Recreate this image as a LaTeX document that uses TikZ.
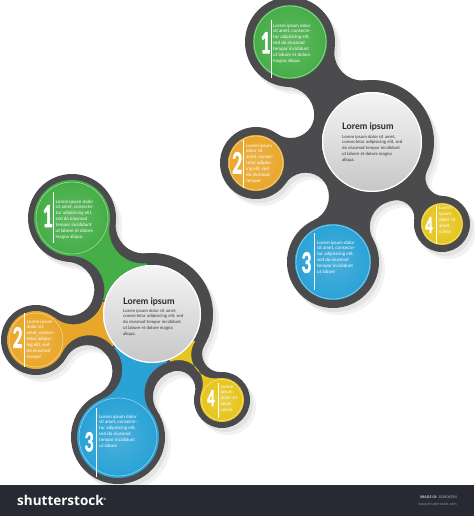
\documentclass[tikz,border=0pt]{standalone}
\usepackage{fontspec}
\usepackage{graphicx}
\setmainfont{Lato}
\newfontfamily\logofont{Open Sans}
\newfontfamily\numfont{Lato}[BoldFeatures={FakeBold=2.5}]
\usetikzlibrary{intersections}
\definecolor{blobgray}{HTML}{4B4B4E}
\definecolor{cgreen}{HTML}{45AE47}
\definecolor{corange}{HTML}{E9A72A}
\definecolor{cblue}{HTML}{2AA2D6}
\definecolor{cyellow}{HTML}{E6C51E}
\definecolor{barbg}{HTML}{272A32}
% metaball neck between two circles: #1 centre A, #2 radius A, #3 centre B, #4 radius B, #5 fillet radius, #6 colour
\newcommand\mbneck[6]{%
  \path[name path=mbA] (#1) circle[radius=#2pt+#5pt];
  \path[name path=mbB] (#3) circle[radius=#4pt+#5pt];
  \path[name intersections={of=mbA and mbB, name=mbF}];
  \begin{scope}[even odd rule]
    \clip (-50,-50) rectangle (550,600) (mbF-1) circle[radius=#5pt] (mbF-2) circle[radius=#5pt];
    \fill[#6] (#1) -- (mbF-1) -- (#3) -- (mbF-2) -- cycle;
  \end{scope}}
\newcommand\blobA[1]{%
  \fill[#1] (AC) circle[radius=62pt] (AG) circle[radius=45pt] (AO) circle[radius=36pt] (AB) circle[radius=46pt] (AY) circle[radius=28pt];
  \mbneck{AC}{62}{AG}{45}{28}{#1}%
  \mbneck{AC}{62}{AO}{36}{24}{#1}%
  \mbneck{AC}{62}{AB}{46}{26}{#1}%
  \mbneck{AC}{62}{AY}{28}{18}{#1}}
\newcommand\blobB[1]{%
  \fill[#1] (BC) circle[radius=61pt] (BG) circle[radius=44pt] (BO) circle[radius=35pt] (BB) circle[radius=47pt] (BY) circle[radius=28pt];
  \mbneck{BC}{61}{BG}{44}{28}{#1}%
  \mbneck{BC}{61}{BO}{35}{24}{#1}%
  \mbneck{BC}{61}{BB}{47}{26}{#1}%
  \mbneck{BC}{61}{BY}{28}{18}{#1}}
\begin{document}
\begin{tikzpicture}[x=1pt,y=-1pt,
  lobetxt/.style={anchor=north west, inner sep=0pt, text=white, align=left, font=\fontsize{4.6}{5.9}\selectfont},
  numtxt/.style={anchor=north west, inner sep=0pt, text=white, font=\numfont\bfseries\fontsize{#1}{#1}\selectfont},
  ctrhead/.style={anchor=north west, inner sep=0pt, text=black!85, font=\bfseries\fontsize{9}{10}\selectfont},
  ctrtxt/.style={anchor=north west, inner sep=0pt, text=black!78, align=left, font=\fontsize{4.4}{5.75}\selectfont},
  vline/.style={white, line width=0.9pt},
  lobe/.style={inner color=#1!85!white, outer color=#1},
  rim/.style={draw=#1!55!white, line width=0.7pt}]
\fill[white] (0,0) rectangle (474,516);
\useasboundingbox (0,0) rectangle (474,516);
% ---------- diagram A (top right) ----------
\coordinate (AC) at (372,142);
\coordinate (AG) at (290,42);
\coordinate (AO) at (256,163);
\coordinate (AB) at (333,262);
\coordinate (AY) at (442,224);
\begin{scope}[transform canvas={shift={(6,7)}}]\blobA{black!5}\end{scope}
\begin{scope}[transform canvas={shift={(3,4)}}]\blobA{black!11}\end{scope}
\blobA{blobgray}
\shade[lobe=cgreen] (AG) circle[radius=37pt];
\draw[rim=cgreen] (AG) circle[radius=36pt];
\shade[lobe=corange] (AO) circle[radius=28pt];
\draw[rim=corange] (AO) circle[radius=27pt];
\shade[lobe=cblue] (AB) circle[radius=38pt];
\draw[rim=cblue] (AB) circle[radius=37pt];
\shade[lobe=cyellow] (AY) circle[radius=21pt];
\draw[rim=cyellow] (AY) circle[radius=20pt];
\shade[top color=black!4, bottom color=black!22] (AC) circle[radius=50pt];
\draw[white, line width=1.2pt] (AC) circle[radius=49.4pt];
% texts A
\node[numtxt=29] (an1) at (260.5,32) {\scalebox{0.6}[1]{1}};
\draw[vline] (271,20) -- (271,78);
\node[lobetxt] (at1) at (273,23.5) {Lorem ipsum dolor\\sit amet, consecte-\\tur adipisicing elit,\\sed do eiusmod\\tempor incididunt\\ut labore et dolore\\magna aliqua.};
\node[numtxt=29] (an2) at (232,152) {\scalebox{0.6}[1]{2}};
\draw[vline] (243.5,140) -- (243.5,188);
\node[lobetxt] (at2) at (246,143.5) {Lorem ipsum\\dolor sit\\amet, consec-\\tetur adipisc-\\ing elit, sed\\do eiusmod\\tempor};
\node[numtxt=28] (an3) at (301.5,252) {\scalebox{0.6}[1]{3}};
\draw[vline] (314,233) -- (314,290);
\node[lobetxt] (at3) at (317,240.5) {Lorem ipsum dolor\\sit amet, consecte-\\tur adipisicing elit,\\sed do eiusmod\\tempor incididunt\\ut labore};
\node[numtxt=22] (an4) at (425,217) {\scalebox{0.6}[1]{4}};
\draw[vline] (436,206) -- (436,244);
\node[lobetxt] (at4) at (439,206.5) {Lorem\\ipsum\\dolor sit\\amet,\\conse};
\node[ctrhead] (ah) at (342,122.4) {Lorem ipsum};
\node[ctrtxt] (ab) at (342,134.7) {Lorem ipsum dolor sit amet,\\consectetur adipisicing elit, sed\\do eiusmod tempor incididunt\\ut labore et dolore magna\\aliqua.};
% ---------- diagram B (bottom left) ----------
\coordinate (BC) at (152,314);
\coordinate (BG) at (72,218);
\coordinate (BO) at (36,340);
\coordinate (BB) at (118,437);
\coordinate (BY) at (222,400);
\begin{scope}[transform canvas={shift={(6,7)}}]\blobB{black!5}\end{scope}
\begin{scope}[transform canvas={shift={(3,4)}}]\blobB{black!11}\end{scope}
\blobB{blobgray}
\mbneck{BC}{51}{BG}{38}{34}{cgreen}
\mbneck{BC}{51}{BO}{29}{30}{corange}
\mbneck{BC}{51}{BB}{41}{32}{cblue}
\mbneck{BC}{51}{BY}{22}{24}{cyellow}
\fill[cgreen] (BG) circle[radius=38pt];
\shade[lobe=cgreen] (BG) circle[radius=36pt];
\draw[rim=cgreen] (BG) circle[radius=36pt];
\fill[corange] (BO) circle[radius=29pt];
\shade[lobe=corange] (BO) circle[radius=27pt];
\draw[rim=corange] (BO) circle[radius=27pt];
\fill[cblue] (BB) circle[radius=41pt];
\shade[lobe=cblue] (BB) circle[radius=39pt];
\draw[rim=cblue] (BB) circle[radius=39pt];
\fill[cyellow] (BY) circle[radius=22pt];
\shade[lobe=cyellow] (BY) circle[radius=20.5pt];
\draw[rim=cyellow] (BY) circle[radius=20.5pt];
\shade[top color=black!4, bottom color=black!22] (BC) circle[radius=49pt];
\draw[white, line width=1.2pt] (BC) circle[radius=48.4pt];
% texts B
\node[numtxt=30] (bn1) at (42.5,205) {\scalebox{0.6}[1]{1}};
\draw[vline] (53,192) -- (53,243);
\node[lobetxt] (bt1) at (55.5,199.5) {Lorem ipsum dolor\\sit amet, consecte-\\tur adipisicing elit,\\sed do eiusmod\\tempor incididunt\\ut labore et dolore\\magna aliqua.};
\node[numtxt=28] (bn2) at (12.5,327) {\scalebox{0.6}[1]{2}};
\draw[vline] (24,313) -- (24,367);
\node[lobetxt] (bt2) at (26.5,319.5) {Lorem ipsum\\dolor sit\\amet, consec-\\tetur adipisc-\\ing elit, sed\\do eiusmod\\tempor};
\node[numtxt=26] (bn3) at (84.5,432) {\scalebox{0.6}[1]{3}};
\draw[vline] (96.5,408) -- (96.5,477);
\node[lobetxt] (bt3) at (99,414.5) {Lorem ipsum dolor\\sit amet, consecte-\\tur adipisicing elit,\\sed do eiusmod\\tempor incididunt\\ut labore};
\node[numtxt=22] (bn4) at (207,390) {\scalebox{0.6}[1]{4}};
\draw[vline] (218,383) -- (218,418);
\node[lobetxt] (bt4) at (220.5,384.5) {Lorem\\ipsum\\dolor sit\\amet,\\conse};
\node[ctrhead] (bh) at (123,297.4) {Lorem ipsum};
\node[ctrtxt] (bb) at (123,308.7) {Lorem ipsum dolor sit amet,\\consectetur adipisicing elit, sed\\do eiusmod tempor incididunt\\ut labore et dolore magna\\aliqua.};
% ---------- bottom bar ----------
\fill[barbg] (0,485) rectangle (474,516);
\node[anchor=base west, inner sep=0pt, text=white, font=\logofont\bfseries\fontsize{13.5}{14}\selectfont] (logo) at (17,505) {shutterstock\raisebox{5pt}{\fontsize{3}{3}\selectfont ®}};
\node[anchor=base east, inner sep=0pt, text=black!25, font=\logofont\fontsize{3.6}{4}\selectfont] (imgid) at (457,498) {\textbf{IMAGE ID:} 203808784};
\node[anchor=base east, inner sep=0pt, text=black!40, font=\logofont\fontsize{3.6}{4}\selectfont] (www) at (457,505.5) {www.shutterstock.com};
\end{tikzpicture}
\end{document}
